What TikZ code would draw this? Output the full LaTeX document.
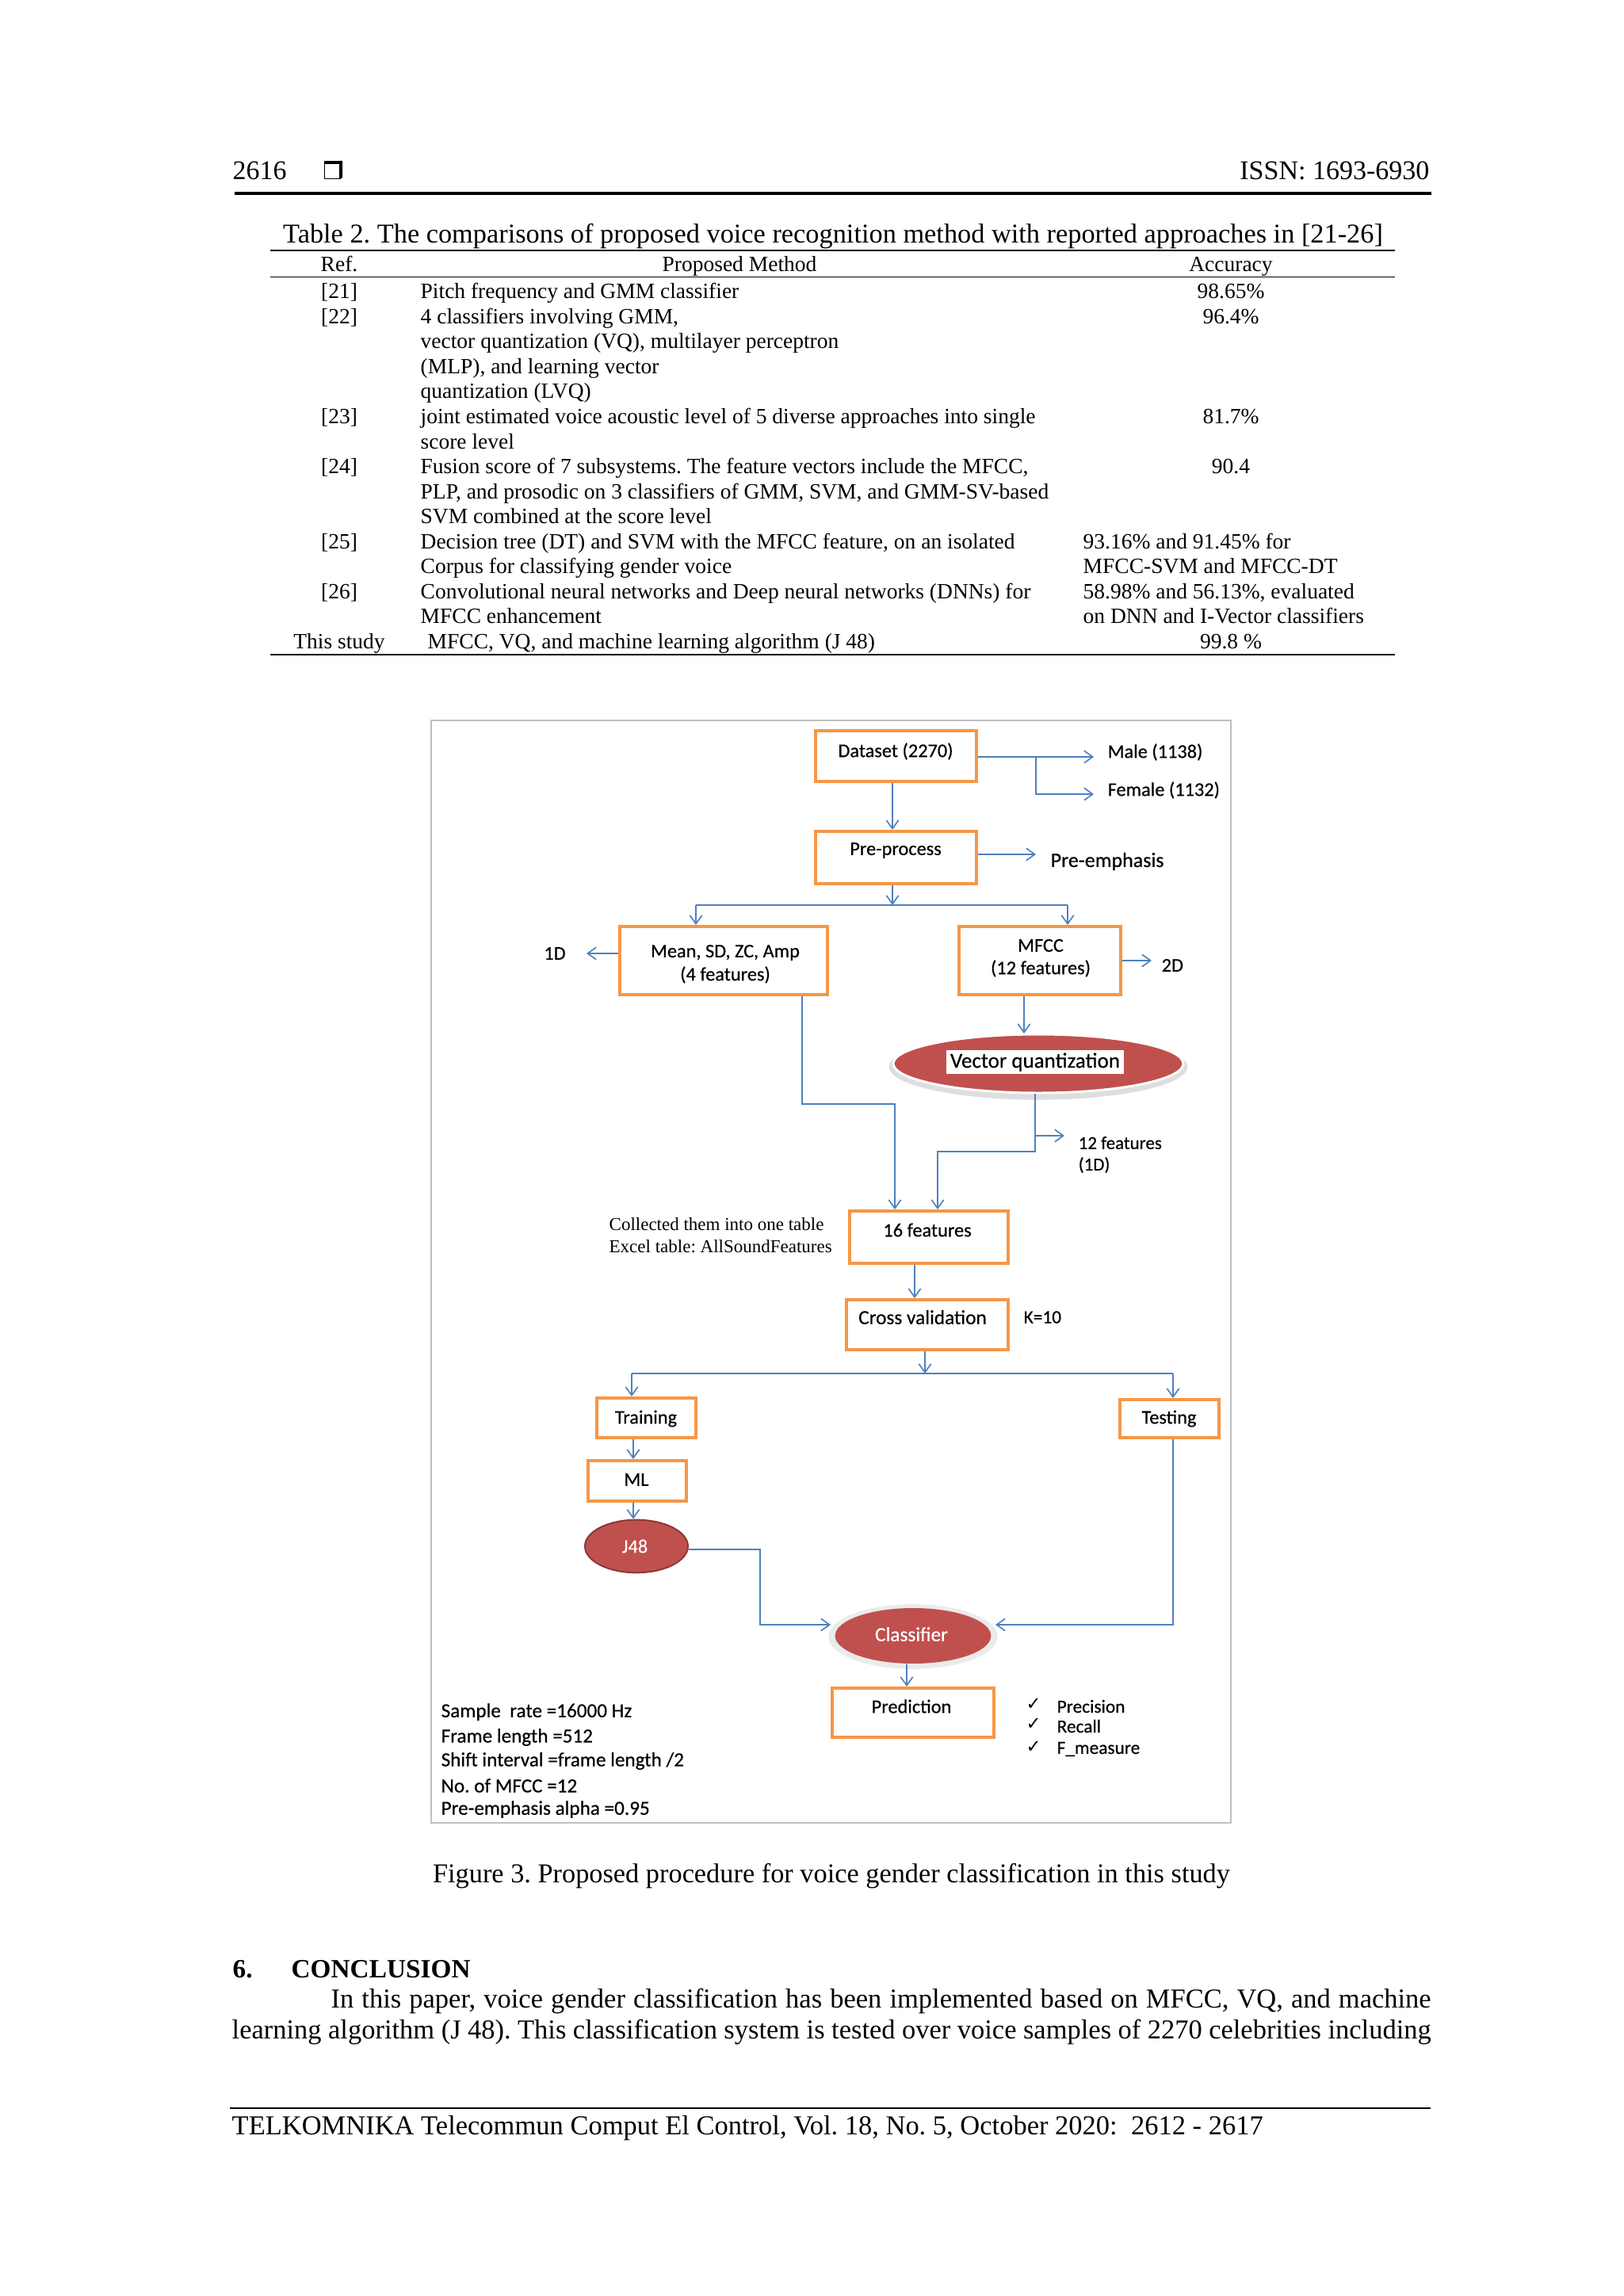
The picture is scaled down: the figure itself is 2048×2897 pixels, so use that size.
\documentclass[tikz,border=0pt]{standalone}
\usepackage{fontspec}
\setmainfont{Liberation Serif}
\newfontfamily\carlito[FakeBold=0.4]{Carlito}
\newfontfamily\dejavu{DejaVu Sans}
\usetikzlibrary{arrows.meta,shapes.geometric}
\definecolor{boxorange}{HTML}{F79646}
\definecolor{arrowblue}{HTML}{4F81BD}
\definecolor{ellred}{HTML}{C0504D}
\definecolor{ellborder}{HTML}{8C3836}
\definecolor{framegray}{HTML}{BFBFBF}
\frenchspacing
\newcommand\myBody{\fontsize{10.35}{12}\selectfont}
\newcommand\myTab{\fontsize{8.25}{9.5}\selectfont}
\newcommand\myCap{\fontsize{10.3}{12}\selectfont}
\newcommand\myHdr{\fontsize{10.2}{12}\selectfont}
\newcommand\myDia{\carlito\fontsize{7.3}{8.5}\selectfont}
\begin{document}
\begin{tikzpicture}[x=0.3pt,y=-0.3pt,
  obox/.style={draw=boxorange, line width=1.2pt, fill=white, inner sep=0pt},
  conn/.style={draw=arrowblue, line width=0.55pt},
  arr/.style={conn, -{Straight Barb[length=3.2pt,width=4.6pt,line width=0.5pt]}},
  dlab/.style={font=\myDia, inner sep=0pt},
  tlab/.style={font=\myTab, inner sep=0pt},
  blab/.style={font=\myBody, inner sep=0pt},
  redell/.style={ellipse, fill=ellred, inner sep=0pt},
  glow/.style={ellipse, fill=black!13, inner sep=0pt}
]
\fill[white] (0,0) rectangle (2048,2897);
\useasboundingbox (0,0) rectangle (2048,2897);

% ---------- page header ----------
\node[font=\myHdr, inner sep=0pt, anchor=base west] (pgno) at (293,227) {2616};
\draw[line width=0.3pt] (409,206) rectangle (429,226);
\fill (409,203) rectangle (432,207);
\fill (428,203) -- (432,203) -- (432,224) -- (429,226) -- (428,226) -- cycle;
\node[font=\myHdr, inner sep=0pt, anchor=base east] (issn) at (1804,227) {ISSN: 1693-6930};
\draw[line width=1.05pt] (296,244) -- (1806,244);

% ---------- table ----------
\node[font=\myCap, inner sep=0pt, anchor=base] (tcap) at (1051,306.7) {Table 2. The comparisons of proposed voice recognition method with reported approaches in [21-26]};
\draw[line width=0.6pt] (341,315.7) -- (1760,315.7);
\node[tlab, anchor=base] (href) at (428,342.7) {Ref.};
\node[tlab, anchor=base] (hmeth) at (933,342.7) {Proposed Method};
\node[tlab, anchor=base] (hacc) at (1553,342.7) {Accuracy};
\draw[line width=0.45pt] (341,349.3) -- (1760,349.3);

\foreach \i/\r/\m/\a in {
 0/[21]/Pitch frequency and GMM classifier/98.65\%,
 1/[22]/{4 classifiers involving GMM,}/96.4\%,
 2//{vector quantization (VQ), multilayer perceptron}/,
 3//{(MLP), and learning vector}/,
 4//{quantization (LVQ)}/,
 5/[23]/joint estimated voice acoustic level of 5 diverse approaches into single/81.7\%,
 6//score level/,
 7/[24]/{Fusion score of 7 subsystems. The feature vectors include the MFCC,}/90.4,
 8//{PLP, and prosodic on 3 classifiers of GMM, SVM, and GMM-SV-based}/,
 9//SVM combined at the score level/,
 10/[25]/{Decision tree (DT) and SVM with the MFCC feature, on an isolated}/,
 11//Corpus for classifying gender voice/,
 12/[26]/Convolutional neural networks and Deep neural networks (DNNs) for/,
 13//MFCC enhancement/}{
  \node[tlab, anchor=base] (ref\i) at (428,376.7+31.55*\i) {\r};
  \node[tlab, anchor=base west] (meth\i) at (530,376.7+31.55*\i) {\m};
  \node[tlab, anchor=base] (acc\i) at (1553,376.7+31.55*\i) {\a};
}
\node[tlab, anchor=base west] (acc25a) at (1366,376.7+31.55*10) {93.16\% and 91.45\% for};
\node[tlab, anchor=base west] (acc25b) at (1366,376.7+31.55*11) {MFCC-SVM and MFCC-DT};
\node[tlab, anchor=base west] (acc26a) at (1366,376.7+31.55*12) {58.98\% and 56.13\%, evaluated};
\node[tlab, anchor=base west] (acc26b) at (1366,376.7+31.55*13) {on DNN and I-Vector classifiers};
\node[tlab, anchor=base] (ref14) at (428,376.7+31.55*14) {This study};
\node[tlab, anchor=base west] (meth14) at (539,376.7+31.55*14) {MFCC, VQ, and machine learning algorithm (J 48)};
\node[tlab, anchor=base] (acc14) at (1553,376.7+31.55*14) {99.8 \%};
\draw[line width=0.6pt] (341,826) -- (1760,826);

% ---------- figure frame ----------
\draw[framegray, line width=0.6pt] (544,909) rectangle (1553,2300);

% ---------- boxes ----------
\node[obox, minimum width=60.9pt, minimum height=19.2pt] (dataset) at (1130.5,954) {};
\node[obox, minimum width=60.9pt, minimum height=19.8pt] (pre) at (1130.5,1082) {};
\node[obox, minimum width=78.6pt, minimum height=25.8pt] (mean) at (913,1212) {};
\node[obox, minimum width=61.2pt, minimum height=25.8pt] (mfcc) at (1312,1212) {};
\node[obox, minimum width=60pt, minimum height=19.8pt] (feat16) at (1172,1561) {};
\node[obox, minimum width=61.2pt, minimum height=18.9pt] (cv) at (1170,1671.5) {};
\node[obox, minimum width=37.5pt, minimum height=15pt] (training) at (815.5,1789) {};
\node[obox, minimum width=37.5pt, minimum height=14.4pt] (testing) at (1475,1790) {};
\node[obox, minimum width=37.2pt, minimum height=15.3pt] (ml) at (804,1868.5) {};
\node[obox, minimum width=61.2pt, minimum height=18.6pt] (pred) at (1152,2161) {};

% ---------- ellipses ----------
\node[glow, minimum width=113pt, minimum height=25pt] (vqglow) at (1310,1346) {};
\node[redell, draw=white, line width=0.9pt, minimum width=109.8pt, minimum height=22.2pt] (vq) at (1310,1342) {};
\node[fill=white, inner xsep=1.6pt, inner ysep=0pt, minimum height=9pt, font=\carlito\fontsize{8.1}{9}\selectfont] (vqt) at (1306,1340) {Vector quantization};
\node[redell, draw=ellborder, line width=0.6pt, minimum width=39pt, minimum height=20pt] (j48) at (803,1951) {};
\node[glow, fill=black!8, minimum width=64pt, minimum height=24.5pt] (clglow) at (1152,2065) {};
\node[redell, minimum width=59pt, minimum height=21pt] (classifier) at (1152,2064) {};

% ---------- texts in diagram ----------
\node[dlab] (datasett) at (1130,948) {Dataset (2270)};
\node[dlab, anchor=west] (male) at (1397,949) {Male (1138)};
\node[dlab, anchor=west] (female) at (1397,997) {Female (1132)};
\node[dlab] (pret) at (1130,1073) {Pre-process};
\node[dlab, anchor=west, font=\carlito\fontsize{7.8}{9}\selectfont] (preemph) at (1325,1087) {Pre-emphasis};
\node[dlab] (meant1) at (915,1202) {Mean, SD, ZC, Amp};
\node[dlab] (meant2) at (915,1230) {(4 features)};
\node[dlab] (oned) at (700,1203) {1D};
\node[dlab] (mfcct1) at (1313,1193) {MFCC};
\node[dlab] (mfcct2) at (1313,1222) {(12 features)};
\node[dlab, anchor=west] (twod) at (1465,1218) {2D};
\node[dlab, anchor=west, font=\carlito\fontsize{6.9}{8}\selectfont] (twelve1) at (1360,1442) {12 features};
\node[dlab, anchor=west, font=\carlito\fontsize{6.9}{8}\selectfont] (twelve2) at (1360,1470) {(1D)};
\node[inner sep=0pt, anchor=west, font=\fontsize{6.9}{8}\selectfont] (coll1) at (768,1545) {Collected them into one table};
\node[inner sep=0pt, anchor=west, font=\fontsize{6.9}{8}\selectfont] (coll2) at (768,1573) {Excel table: AllSoundFeatures};
\node[dlab] (feat16t) at (1170,1552) {16 features};
\node[dlab, font=\carlito\fontsize{7.6}{9}\selectfont] (cvt) at (1164,1662) {Cross validation};
\node[dlab, anchor=west, font=\carlito\fontsize{7}{8}\selectfont] (kten) at (1291,1662) {K=10};
\node[dlab] (trainingt) at (815,1790) {Training};
\node[dlab] (testingt) at (1475,1790) {Testing};
\node[dlab] (mlt) at (803,1867) {ML};
\node[dlab, text=white] (j48t) at (801,1951) {J48};
\node[dlab, text=white, font=\carlito\fontsize{7.6}{9}\selectfont] (classt) at (1150,2062) {Classifier};
\node[dlab] (predt) at (1150,2153) {Prediction};
\node[inner sep=0pt, font=\dejavu\fontsize{6.8}{7}\selectfont] (ck1) at (1304,2150) {✓};
\node[inner sep=0pt, font=\dejavu\fontsize{6.8}{7}\selectfont] (ck2) at (1304,2175) {✓};
\node[inner sep=0pt, font=\dejavu\fontsize{6.8}{7}\selectfont] (ck3) at (1304,2204) {✓};
\node[dlab, anchor=west, font=\carlito\fontsize{7}{8}\selectfont] (prec) at (1333,2153) {Precision};
\node[dlab, anchor=west, font=\carlito\fontsize{7}{8}\selectfont] (recall) at (1333,2178) {Recall};
\node[dlab, anchor=west, font=\carlito\fontsize{7}{8}\selectfont] (fmeas) at (1333,2207) {F\_measure};
\node[dlab, anchor=west, font=\carlito\fontsize{7.55}{9}\selectfont] (par1) at (556,2160) {Sample\ \ rate =16000 Hz};
\node[dlab, anchor=west, font=\carlito\fontsize{7.55}{9}\selectfont] (par2) at (556,2192) {Frame length =512};
\node[dlab, anchor=west, font=\carlito\fontsize{7.55}{9}\selectfont] (par3) at (556,2222) {Shift interval =frame length /2};
\node[dlab, anchor=west, font=\carlito\fontsize{7.55}{9}\selectfont] (par4) at (556,2253) {No. of MFCC =12};
\node[dlab, anchor=west, font=\carlito\fontsize{7.55}{9}\selectfont] (par5) at (556,2283) {Pre-emphasis alpha =0.95};

% ---------- connectors ----------
\coordinate (dsx) at (1126,0);
\draw[arr] (dataset.south -| dsx) -- (pre.north -| dsx);
\coordinate (maletip) at (1380,955);
\coordinate (mfbr) at (1307,955);
\coordinate (femtip) at (1380,1002);
\draw[arr] (dataset.east |- maletip) -- (maletip);
\draw[arr] (mfbr) |- (femtip);
\coordinate (pemtip) at (1307,1078);
\draw[arr] (pre.east |- pemtip) -- (pemtip);
\coordinate (split1) at (1126,1142);
\coordinate (sl) at (878,1142);
\coordinate (sr) at (1347,1142);
\draw[arr] (pre.south -| split1) -- (split1);
\draw[conn] (sl) -- (sr);
\draw[arr] (sl) -- (mean.north -| sl);
\draw[arr] (sr) -- (mfcc.north -| sr);
\coordinate (onedtip) at (740,1203);
\draw[arr] (mean.west |- onedtip) -- (onedtip);
\coordinate (twodtip) at (1453,1212);
\draw[arr] (mfcc.east |- twodtip) -- (twodtip);
\coordinate (mvx) at (1292,1304);
\draw[arr] (mfcc.south -| mvx) -- (mvx);
\coordinate (vqb) at (1306,1453);
\coordinate (vql) at (1183,1453);
\coordinate (vqbot) at (1306,1380);
\draw[arr] (vqbot) -- (vqb) -- (vql) -- (feat16.north -| vql);
\coordinate (vqbr) at (1306,1433);
\coordinate (twelvetip) at (1343,1433);
\draw[arr] (vqbr) -- (twelvetip);
\coordinate (mb1) at (1012,1393);
\coordinate (mb2) at (1129,1393);
\draw[arr] (mean.south -| mb1) -- (mb1) -- (mb2) -- (feat16.north -| mb2);
\coordinate (fcx) at (1154,0);
\draw[arr] (feat16.south -| fcx) -- (cv.north -| fcx);
\coordinate (split2) at (1167,1733);
\coordinate (tl) at (797,1733);
\coordinate (tr) at (1480,1733);
\draw[arr] (cv.south -| split2) -- (split2);
\draw[conn] (tl) -- (tr);
\draw[arr] (tl) -- (training.north -| tl);
\draw[arr] (tr) -- (testing.north -| tr);
\coordinate (tmx) at (799,0);
\draw[arr] (training.south -| tmx) -- (ml.north -| tmx);
\draw[arr] (ml.south -| tmx) -- (j48.north -| tmx);
\coordinate (jc1) at (959,1955);
\coordinate (jc2) at (959,2050);
\coordinate (cltipl) at (1048,2050);
\draw[arr] (j48.east |- jc1) -- (jc1) -- (jc2) -- (cltipl);
\coordinate (tc1) at (1480,2050);
\coordinate (cltipr) at (1256,2050);
\draw[arr] (testing.south -| tc1) -- (tc1) -- (cltipr);
\coordinate (cpx) at (1144,0);
\draw[arr] (classifier.south -| cpx) -- (pred.north -| cpx);

% ---------- caption and text ----------
\node[font=\myCap, inner sep=0pt, anchor=base] (figcap) at (1049,2375) {Figure 3. Proposed procedure for voice gender classification in this study};
\node[font=\fontsize{10}{12}\selectfont\bfseries, inner sep=0pt, anchor=base west] (secno) at (293,2495) {6.};
\node[font=\fontsize{10}{12}\selectfont\bfseries, inner sep=0pt, anchor=base west] (sectitle) at (367,2495) {CONCLUSION};
\node[blab, anchor=base west] (body1) at (417,2533) {\makebox[416.4pt][s]{In this paper, voice gender classification has been implemented based on MFCC, VQ, and machine}};
\node[blab, anchor=base west] (body2) at (292,2572) {\makebox[453.9pt][s]{learning algorithm (J 48). This classification system is tested over voice samples of 2270 celebrities including}};
\draw[line width=0.8pt] (290,2660) -- (1805,2660);
\node[blab, anchor=base west] (footer) at (292,2693) {TELKOMNIKA Telecommun Comput El Control, Vol. 18, No. 5, October 2020:\ \ 2612 - 2617};
\end{tikzpicture}
\end{document}
